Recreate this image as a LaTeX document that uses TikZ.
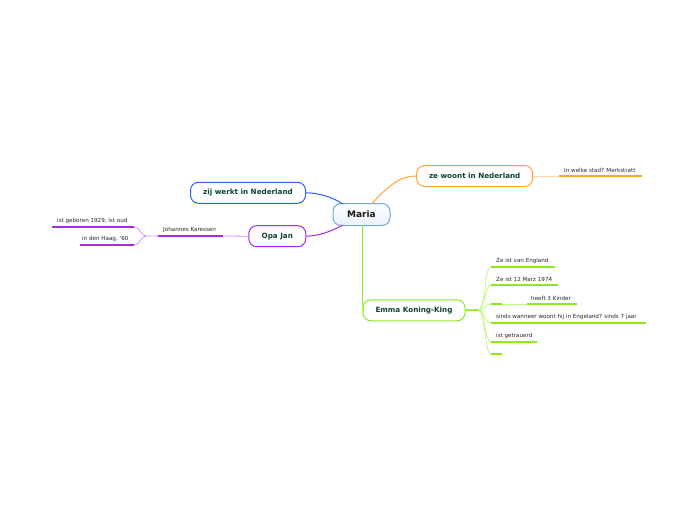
\documentclass[tikz,border=0pt]{standalone}
\usepackage{fontspec}
\setmainfont{DejaVu Sans}
\definecolor{txt}{RGB}{14,66,52}
\definecolor{cblue}{RGB}{40,100,240}
\definecolor{cpurple}{RGB}{170,40,235}
\definecolor{cpurplel}{RGB}{210,150,250}
\definecolor{corange}{RGB}{255,165,50}
\definecolor{corangel}{RGB}{255,215,170}
\definecolor{cgreen}{RGB}{140,235,30}
\definecolor{cgreenl}{RGB}{190,248,130}
\definecolor{cmaria}{RGB}{110,170,220}
\tikzset{
  topic/.style={draw, rounded corners=8pt, line width=1pt, fill=white, text=txt,
    font=\bfseries\fontsize{7.2}{8}\selectfont, inner sep=0pt, minimum height=21pt},
  leaf/.style={anchor=south west, inner sep=0pt, text=black!85,
    font=\fontsize{5.6}{6}\selectfont},
  ul/.style={line width=1.6pt},
  conn/.style={line width=1pt},
  fan/.style={line width=0.8pt},
}
\begin{document}
\begin{tikzpicture}[x=1pt,y=-1pt]
\useasboundingbox (0,0) rectangle (697,520);
% central
\node[topic, draw=cmaria, top color=white, bottom color=cmaria!15, text=black!90,
  font=\bfseries\fontsize{9}{10}\selectfont, minimum width=57pt, minimum height=22pt] (maria) at (361.5,214.5) {Maria};
% main topics
\node[topic, draw=cblue, minimum width=115pt] (zij) at (248,192.8) {zij werkt in Nederland};
\node[topic, draw=cpurple, minimum width=57pt] (opa) at (277.3,236.2) {Opa Jan};
\node[topic, draw=corange, minimum width=116pt] (ze) at (474.7,176) {ze woont in Nederland};
\node[topic, draw=cgreen, minimum width=102pt] (emma) at (414,310.3) {Emma Koning-King};
% connectors from Maria
\draw[conn, cblue] (343,204) .. controls (330,196) and (318,193) .. (zij.east);
\draw[conn, cpurple] (343,225) .. controls (330,232) and (318,236) .. (opa.east);
\draw[conn, corange] (372,203.5) .. controls (388,186) and (400,176) .. (ze.west);
\draw[conn, cgreen] (362.5,225) -- (362.5,298) .. controls (362.5,306) and (364,310.3) .. (emma.west);
% ze woont branch
\coordinate (m1) at (559,176);
\coordinate (m2) at (642,176);
\draw[fan, corangel] (ze.east) -- (m1);
\draw[ul, corange] (m1) -- (m2);
\node[leaf] (mt) at (564,172.5) {In welke stad? Merkstratt};
% Opa Jan branch
\coordinate (j1) at (158,236);
\coordinate (j2) at (223,236);
\draw[fan, cpurplel] (opa.west) -- (j2);
\draw[ul, cpurple] (j1) -- (j2);
\node[leaf] (jt) at (163,232.5) {Johannes Karessen};
\coordinate (g1) at (52,227);
\coordinate (g2) at (134,227);
\coordinate (h1) at (80,245);
\coordinate (h2) at (134,245);
\draw[ul, cpurple] (g1) -- (g2);
\draw[ul, cpurple] (h1) -- (h2);
\node[leaf] (gt) at (57,223.5) {ist geboren 1929, ist oud};
\node[leaf] (ht) at (82,241.5) {in den Haag, '60};
\draw[fan, cpurplel] (j1) -- (146,236) .. controls (141,236) and (140,227) .. (g2);
\draw[fan, cpurplel] (146,236) .. controls (141,236) and (140,245) .. (h2);
% Emma branch
\coordinate (e0) at (478,310);
\draw[ul, cgreen] (emma.east) -- (e0);
\foreach \n/\y/\xe in {1/267/555, 2/285/558, 3/304/501.5, 4/323/646, 5/342/537, 6/354/501.5}{
  \coordinate (a\n) at (491,\y);
  \coordinate (b\n) at (\xe,\y);
  \draw[fan, cgreenl] (e0) .. controls (486,310) and (484,\y) .. (a\n);
  \draw[ul, cgreen] (a\n) -- (b\n);
}
\node[leaf] (t1) at (496,263.5) {Ze ist van England};
\node[leaf] (t2) at (496,281.5) {Ze ist 12 Marz 1974};
\node[leaf] (t4) at (496,319.5) {sinds wanneer woont hij in Engeland? sinds 7 jaar};
\node[leaf] (t5) at (496,338.5) {ist getrauerd};
\coordinate (k1) at (526.5,304);
\coordinate (k2) at (576.5,304);
\draw[fan, cgreenl] (b3) -- (k1);
\draw[ul, cgreen] (k1) -- (k2);
\node[leaf] (t3) at (531,300.5) {heeft 3 Kinder};
\end{tikzpicture}
\end{document}
